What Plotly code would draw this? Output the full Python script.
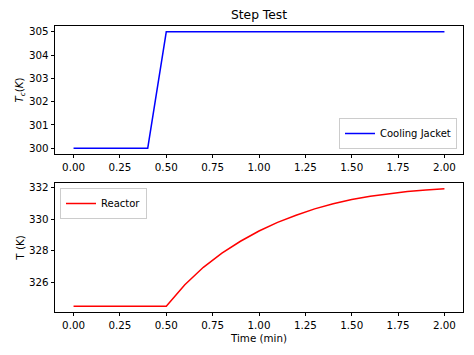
import plotly.graph_objects as go

time_min = [0.0, 0.1, 0.2, 0.3, 0.4, 0.5, 0.6, 0.7, 0.8, 0.9, 1.0,
            1.1, 1.2, 1.3, 1.4, 1.5, 1.6, 1.7, 1.8, 1.9, 2.0]
cooling_jacket_K = [300, 300, 300, 300, 300, 305, 305, 305, 305, 305, 305,
                    305, 305, 305, 305, 305, 305, 305, 305, 305, 305]
reactor_K = [324.49, 324.49, 324.49, 324.49, 324.49, 324.49, 325.85, 326.95,
             327.85, 328.6, 329.25, 329.8, 330.25, 330.65, 330.98, 331.25,
             331.45, 331.62, 331.75, 331.85, 331.92]
x_ticks = [0.0, 0.25, 0.5, 0.75, 1.0, 1.25, 1.5, 1.75, 2.0]
tc_ticks = [300, 301, 302, 303, 304, 305]
t_ticks = [326, 328, 330, 332]

FONT = "DejaVu Sans"
W, H = 474, 355

def py(p):
    return 1 - p / H

fig = go.Figure()
fig.add_trace(go.Scatter(x=time_min, y=cooling_jacket_K, mode="lines",
                         name="Cooling Jacket", line=dict(color="#0000ff", width=1.5),
                         xaxis="x", yaxis="y", legend="legend", showlegend=True))
fig.add_trace(go.Scatter(x=time_min, y=reactor_K, mode="lines",
                         name="Reactor", line=dict(color="#ff0000", width=1.5),
                         xaxis="x2", yaxis="y2", legend="legend2", showlegend=True))

axis_common = dict(showline=True, linecolor="black", linewidth=0.8, mirror=True,
                   ticks="outside", ticklen=3.5, tickwidth=0.8, tickcolor="black",
                   showgrid=False, zeroline=False, automargin=False,
                   tickfont=dict(family=FONT, size=10.3, color="black"))

xdom = [55 / W, 463 / W]
leg_common = dict(bgcolor="rgba(255,255,255,0.8)", bordercolor="#cccccc", borderwidth=1,
                  font=dict(family=FONT, size=10, color="black"), itemwidth=30,
                  tracegroupgap=0)
fig.update_layout(
    width=W, height=H,
    margin=dict(l=0, r=0, t=0, b=0, autoexpand=False),
    showlegend=True,
    paper_bgcolor="white", plot_bgcolor="white",
    font=dict(family=FONT, size=10, color="black"),
    title=dict(text="Step Test", x=259 / W, xanchor="center", y=py(15), yanchor="middle",
               font=dict(family=FONT, size=12.3, color="black")),
    xaxis=dict(domain=xdom, anchor="y", range=[-0.1, 2.1], tickvals=x_ticks,
               tickformat=".2f", **axis_common),
    yaxis=dict(domain=[py(154), py(26)], anchor="x", range=[299.75, 305.25],
               tickvals=tc_ticks,
               title=dict(text="<i>T</i><sub><i>c</i></sub>(<i>K</i>)", standoff=3,
                          font=dict(family=FONT, size=10.3, color="black")),
               **axis_common),
    xaxis2=dict(domain=xdom, anchor="y2", range=[-0.1, 2.1], tickvals=x_ticks,
                tickformat=".2f",
                title=dict(text="Time (min)", standoff=5,
                           font=dict(family=FONT, size=10.3, color="black")),
                **axis_common),
    yaxis2=dict(domain=[py(312), py(183)], anchor="x2", range=[324.12, 332.29],
                tickvals=t_ticks,
                title=dict(text="T (K)", standoff=2,
                           font=dict(family=FONT, size=10.3, color="black")),
                **axis_common),
    legend=dict(x=457 / W, xanchor="right", y=py(149), yanchor="bottom", **leg_common),
    legend2=dict(x=60 / W, xanchor="left", y=py(188), yanchor="top", **leg_common),
)

fig.write_html("out.html", config={"displayModeBar": False},
               post_script="document.body.style.margin='0';document.body.style.overflow='hidden';")
